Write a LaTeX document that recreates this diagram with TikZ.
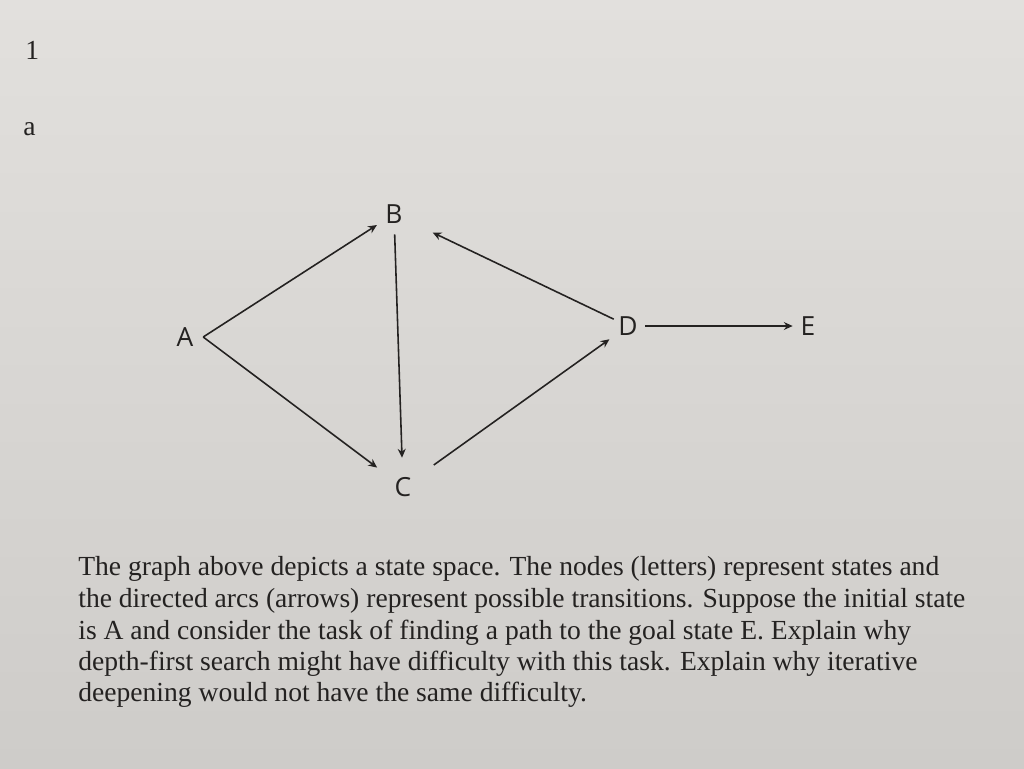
\documentclass[tikz,border=0pt]{standalone}
\usepackage{fontspec}
\setmainfont{Liberation Serif}
\newfontfamily\labelfont{Open Sans}
\usepackage{xcolor}
\usetikzlibrary{arrows.meta}

\definecolor{paperTop}{RGB}{226,224,221}
\definecolor{paperBottom}{RGB}{206,204,201}
\definecolor{ink}{RGB}{36,34,33}

\tikzset{
  state/.style={circle, minimum size=0.8cm, inner sep=0pt, text=ink,
                font=\labelfont\fontsize{15}{17}\selectfont},
  startstate/.style={state, rectangle, minimum size=0pt, inner sep=0.19cm},
  arc/.style={line width=0.9pt, ink, -{Stealth[length=5pt,width=4.5pt]}},
  textline/.style={anchor=base west, inner sep=0pt, text=ink,
                   font=\fontsize{15.7}{18}\selectfont}
}

\begin{document}
\begin{tikzpicture}[x=0.02cm, y=-0.02cm]
  % paper
  \shade[top color=paperTop, bottom color=paperBottom]
        (0,0) rectangle (1024,768);
  \useasboundingbox (0,0) rectangle (1024,768);

  \node[textline] (num) at (25,59) {1};
  \node[textline] (part) at (23,135) {a};

  % states
  \node[startstate] (A) at (185,337) {A};
  \node[state] (B) at (394,214) {B};
  \node[state] (C) at (403,487) {C};
  \node[state] (D) at (628,326) {D};
  \node[state] (E) at (808,326) {E};

  % transitions
  \draw[arc] (A.east) -- (B);
  \draw[arc, shorten >=0.24cm] (A.east) -- (C);
  \draw[arc, shorten >=0.18cm] (B) -- (C);
  \draw[arc, shorten >=0.45cm, shorten <=-0.09cm] (D) -- (B);
  \draw[arc, shorten <=0.35cm, shorten >=0.05cm] (C) -- (D);
  \draw[arc, shorten <=-0.06cm, shorten >=-0.1cm] (D) -- (E);

  % question text
  \node[textline] (l1) at (78,575) {The graph above depicts a state space. The nodes (letters) represent states and};
  \node[textline] (l2) at (78,607) {the directed arcs (arrows) represent possible transitions. Suppose the initial state};
  \node[textline] (l3) at (78,639) {is A and consider the task of finding a path to the goal state E. Explain why};
  \node[textline] (l4) at (78,670) {depth-first search might have difficulty with this task. Explain why iterative};
  \node[textline] (l5) at (78,701) {deepening would not have the same difficulty.};
\end{tikzpicture}
\end{document}
